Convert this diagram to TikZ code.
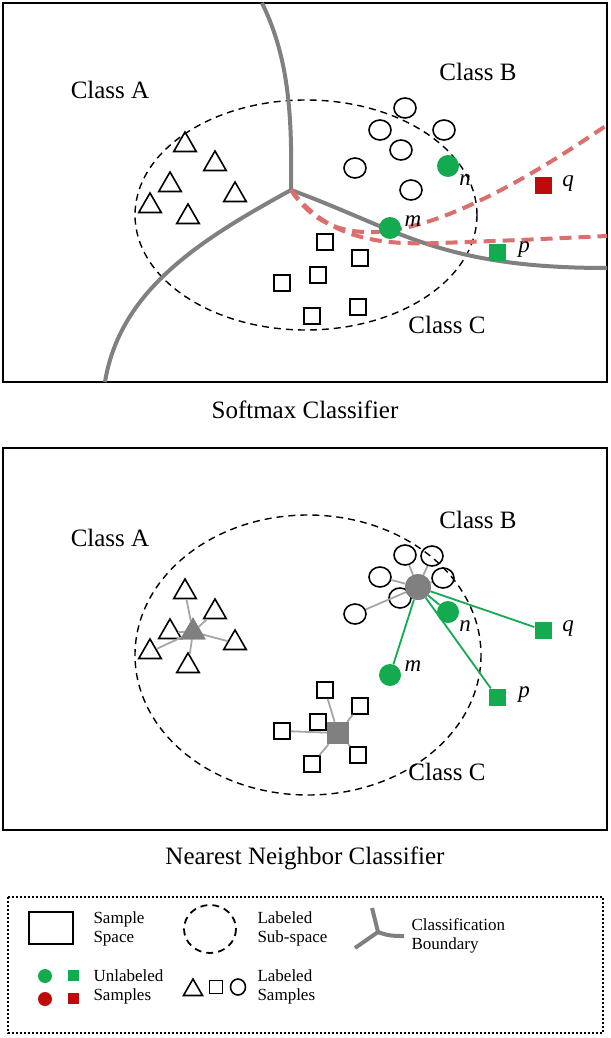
\documentclass[tikz,border=0pt]{standalone}
\usepackage{fontspec}
\setmainfont{Liberation Serif}
\definecolor{ugreen}{RGB}{20,170,80}
\definecolor{ured}{RGB}{190,10,10}
\definecolor{bgray}{RGB}{128,128,128}
\definecolor{dred}{RGB}{220,110,110}
\tikzset{
  tri/.style={draw, line width=1.6pt, regular polygon, regular polygon sides=3, minimum size=26pt, inner sep=0pt},
  sq/.style={draw, line width=1.6pt, rectangle, minimum size=16pt, inner sep=0pt},
  circ/.style={draw, line width=1.6pt, ellipse, minimum width=22pt, minimum height=20pt, inner sep=0pt},
  dot/.style={fill=ugreen, circle, minimum size=22pt, inner sep=0pt},
  gsq/.style={fill=ugreen, rectangle, minimum size=17pt, inner sep=0pt},
  rsq/.style={fill=ured, rectangle, minimum size=17pt, inner sep=0pt},
  bound/.style={bgray, line width=4pt},
  sub/.style={line width=1.4pt, dash pattern=on 7pt off 5pt},
  lab/.style={font=\fontsize{25}{28}\selectfont},
  ilab/.style={font=\fontsize{23}{26}\selectfont\itshape},
  leg/.style={font=\fontsize{17}{19}\selectfont, align=left, anchor=west},
}
\usetikzlibrary{shapes.geometric}
\begin{document}
\begin{tikzpicture}[x=1pt,y=-1pt]
\useasboundingbox (0,0) rectangle (610,1038);
% softmax panel
\draw[line width=1.6pt] (3,3) rectangle (607,382);
\draw[sub] (306,215) ellipse (171 and 115);
\draw[bound] (262,3) .. controls (290,60) and (292,120) .. (291,190);
\draw[bound] (291,190) .. controls (200,240) and (120,290) .. (105,382);
\draw[bound] (291,190) .. controls (400,230) and (440,268) .. (607,268);
\draw[dred, line width=4pt, dash pattern=on 12pt off 7pt] (291,190) .. controls (330,240) and (380,245) .. (440,243) -- (520,240) -- (607,236);
\draw[dred, line width=4pt, dash pattern=on 12pt off 7pt] (291,190) .. controls (330,250) and (410,260) .. (607,125);
\foreach \n/\x/\y in {a1/185/145,a2/215/164,a3/170/185,a4/235/195,a5/150/206,a6/188/217}
  \node[tri] (\n) at (\x,\y) {};
\foreach \n/\x/\y in {b1/405/108,b2/380/130,b3/444/130,b4/401/150,b5/355/168,b6/411/190}
  \node[circ] (\n) at (\x,\y) {};
\foreach \n/\x/\y in {c1/325/242,c2/360/258,c3/318/275,c4/282/283,c5/358/307,c6/312/316}
  \node[sq] (\n) at (\x,\y) {};
\node[dot] (m) at (390,228) {};
\node[ilab] at (413,221) {m};
\node[dot] (n) at (448,166) {};
\node[ilab] at (465,180) {n};
\node[rsq] (q) at (543,185) {};
\node[ilab] at (568,184) {q};
\node[gsq] (p) at (497,252) {};
\node[ilab] at (524,250) {p};
\node[lab] (classA) at (110,90) {Class A};
\node[lab] (classB) at (478,72) {Class B};
\node[lab] (classC) at (447,325) {Class C};
\node[lab] (cap1) at (305,410) {Softmax Classifier};
% nearest neighbour panel
\draw[line width=1.6pt] (3,448) rectangle (607,830);
\draw[sub] (308,655) ellipse (173 and 140);
\node[tri, fill=bgray, draw=bgray] (pa) at (193,632) {};
\node[circle, fill=bgray, minimum size=26pt, inner sep=0pt] (pb) at (418,587) {};
\node[rectangle, fill=bgray, minimum size=22pt, inner sep=0pt] (pc) at (338,733) {};
\foreach \n/\x/\y in {a1/185/592,a2/215/612,a3/170/632,a4/235/643,a5/150/652,a6/188/666}
  {\node[tri] (\n) at (\x,\y) {}; \draw[bgray!70, line width=1.8pt] (pa) -- (\n);}
\foreach \n/\x/\y in {b1/405/555,b2/380/577,b3/443/578,b4/400/598,b5/355/614,b6/432/556}
  {\node[circ] (\n) at (\x,\y) {}; \draw[bgray!70, line width=1.8pt] (pb) -- (\n);}
\foreach \n/\x/\y in {c1/325/690,c2/360/706,c3/318/722,c4/282/731,c5/358/755,c6/312/764}
  {\node[sq] (\n) at (\x,\y) {}; \draw[bgray!70, line width=1.8pt] (pc) -- (\n);}
\node[tri, fill=bgray, draw=bgray] at (pa) {};
\node[circle, fill=bgray, minimum size=26pt, inner sep=0pt] at (pb) {};
\node[rectangle, fill=bgray, minimum size=22pt, inner sep=0pt] at (pc) {};
\node[dot] (m2) at (390,675) {};
\node[dot] (n2) at (448,612) {};
\node[gsq] (q2) at (543,630) {};
\node[gsq] (p2) at (497,697) {};
\foreach \t in {m2,n2,q2,p2}
  \draw[ugreen, line width=1.8pt] (pb) -- (\t);
\node[ilab] at (413,666) {m};
\node[ilab] at (465,626) {n};
\node[ilab] at (568,629) {q};
\node[ilab] at (524,695) {p};
\node[lab] (classA2) at (110,538) {Class A};
\node[lab] (classB2) at (478,520) {Class B};
\node[lab] (classC2) at (447,772) {Class C};
\node[lab] (cap2) at (305,858) {Nearest Neighbor Classifier};
% legend
\draw[line width=2pt, dotted] (8,897) rectangle (603,1033);
\draw[line width=2pt] (29,912) rectangle (73,944);
\node[leg] (lsp) at (90,929) {Sample\\Space};
\draw[sub, line width=1.8pt] (210,929) ellipse (26 and 24);
\node[leg] (lsub) at (254,929) {Labeled\\Sub-space};
\coordinate (yj) at (378,932);
\draw[bound] (372,908) -- (yj);
\draw[bound] (yj) -- (355,948);
\draw[bound] (yj) .. controls (388,936) and (395,936) .. (404,936);
\node[leg] (lcb) at (408,936) {Classification\\Boundary};
\node[dot, minimum size=14pt] (lg1) at (45,976) {};
\node[gsq, minimum size=11pt] (lg2) at (73,975) {};
\node[dot, fill=ured, minimum size=14pt] (lr1) at (45,999) {};
\node[rsq, minimum size=11pt] (lr2) at (73,998) {};
\node[leg] (lun) at (90,987) {Unlabeled\\Samples};
\node[tri, minimum size=22pt] (lt) at (193,990) {};
\node[sq, minimum size=13pt] (ls) at (216,987) {};
\node[circ, minimum width=15pt, minimum height=16pt] (lc) at (238,987) {};
\node[leg] (lls) at (254,987) {Labeled\\Samples};
\end{tikzpicture}
\end{document}
